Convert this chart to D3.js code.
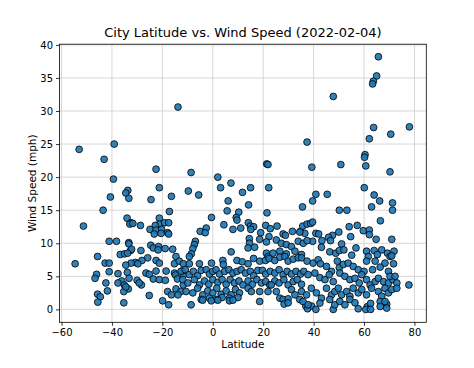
<!DOCTYPE html>
<html><head><meta charset="utf-8">
<script src="https://cdn.jsdelivr.net/npm/d3@7"></script>
<style>body{margin:0;background:#fff}svg{display:block}</style>
</head><body>
<svg id="chart" width="474" height="368"></svg>
<script>
const chartTitle = "City Latitude vs. Wind Speed (2022-02-04)";
const xLabel = "Latitude";
const yLabel = "Wind Speed (mph)";
const xTicks = [-60,-40,-20,0,20,40,60,80];
const yTicks = [0,5,10,15,20,25,30,35,40];

// [latitude, wind speed (mph)]
const windyCities = [
[-53,24.2],[-43.1,22.7],[-39.1,25.0],[-39.4,19.7],[-22.5,21.2],[-13.8,30.6],[-8.6,20.7],[2.0,20.0],
[65.7,38.2],[65.0,35.3],[63.7,34.5],[63.4,34.1],[47.8,32.2],[63.8,27.5],[78.0,27.6],[70.6,26.5],[62.1,25.8],[37.4,25.3],[60.4,23.4],[60.2,23.0],[21.4,22.0],[21.9,21.9],[39.3,21.5],[50.8,21.9],[60.7,21.7],[70.3,20.8],
[-21.2,18.4],[-33.7,18.0],[-34.5,17.6],[-40.6,17.0],[-33.3,16.8],[-24.5,16.6],[-16.4,17.1],[-43.5,15.0],[-17.2,14.8],[-51.3,12.6],[-34,13.8],[-32.5,13.1],[-32.9,12.9],[-31.7,13.0],[-28.7,12.7],[-21.2,13.8],[-21.2,12.9],[-22.8,12.7],[-19.1,13.1],[-17.5,13.1],[-24.9,12.1],[-22.5,12.0],[-20.3,12.1],[-23.2,11.4],[-20.5,11.5],[-17.9,11.6],[-17.5,11.4],[-41.1,10.3],[-38.2,10.3],[-33.3,10.1],
[7.2,19.1],[3.1,18.4],[15.0,18.4],[22.2,18.4],[-9.7,17.9],[-5.6,17.3],[11.8,17.7],[6.1,16.4],[14.2,15.8],[5.7,14.9],[10.3,14.7],[21.5,14.6],[35.6,15.5],[-0.5,13.9],[9.3,13.9],[9.6,13.5],[4.4,12.8],[14.1,13.1],[14.9,12.6],[16.2,12.5],[15.1,12.1],[8.0,12.1],[11.1,12.3],[19.0,11.6],[21.0,12.7],[22.8,12.2],[25.5,12.6],[27.9,11.4],[28.8,11.2],[31.6,11.8],[34.8,11.8],[35.7,12.6],[-5.0,11.8],[-2.6,12.3],[-3.0,11.6],[14.5,10.7],[18.6,10.6],[22.3,11.0],[-6.9,10.3],
[60.1,18.4],[40.9,17.4],[45.4,17.4],[39.6,16.4],[64.0,17.3],[66.2,16.4],[63.0,15.5],[71.3,16.1],[71.3,15.0],[50.2,15.0],[53.2,15.0],[66.5,13.4],[57.3,12.7],[54.1,12.5],[37.4,12.9],[38.8,13.0],[39.6,13.2],[59.7,11.9],[62.1,12.0],[62.1,11.3],[50.0,11.7],[47.5,11.2],[45.9,10.9],[54.7,11.0],[40.9,11.5],[42.0,11.4],[36.5,11.5],[64.8,10.6],[71.0,10.6],[34.5,11.7],[39.6,10.3],[43.3,10.4],[46.7,10.4]
];

const southCalm = [
[-54.6,6.9],[-33.3,9.9],[-45.7,8.0],[-36.7,8.3],[-35.0,8.4],[-32.6,8.9],[-32.2,9.1],[-33.8,8.5],[-28.5,8.9],[-24.6,9.7],[-23.6,9.3],[-21.5,9.5],[-21.7,9.0],[-18.9,9.2],[-15.9,9.1],[-25.8,7.8],[-22.5,7.4],[-21.2,7.0],[-28.1,7.4],[-30.7,7.1],[-29.7,6.9],[-32.4,7.0],[-34.5,6.7],[-42.7,7.0],[-41.1,7.0],[-41.1,5.7],[-46.1,5.3],[-46.7,4.7],[-37.6,5.4],[-33.9,5.6],[-33.2,4.7],[-30.0,4.4],[-26.5,5.5],[-25.2,5.3],[-23.6,4.6],[-21.2,4.5],[-18.8,4.4],[-22.5,5.8],[-18.5,5.8],[-15.2,5.5],[-14.8,5.2],[-14.0,4.6],[-36.1,4.3],[-37.6,4.0],[-35.1,3.7],[-42.4,4.0],[-41.8,2.8],[-28.3,3.7],[-29.2,4.0],[-33.5,3.1],[-35.3,2.7],[-34.5,3.4],[-14.6,3.1],[-12.7,2.7],[-13.8,2.2],[-17.9,2.7],[-16.4,2.2],[-25.2,2.1],[-19.9,1.3],[-17.5,0.7],[-35.3,1.0],[-45.7,2.3],[-44.6,1.9],[-45.6,1.1],[-11.7,5.2],[-12.2,5.8],[-11.7,3.7],[-14.6,8.0],[-15.2,6.9]
];

const tropicsCalm = [
[14.6,10.0],[21.3,10.2],[25.2,10.5],[27.2,10.0],[29.2,9.8],[31.2,9.5],[33.9,10.3],[35.9,10.0],
[14.0,9.3],[16.6,9.4],[21.3,8.5],[21.9,8.0],[23.9,8.5],[26.6,8.8],[29.2,8.4],[32.6,8.8],[35.2,8.3],
[-7.3,9.8],[-7.9,9.2],[-8.5,8.4],[-9.3,8.0],[-13.3,7.3],[-11.7,6.9],[-9.3,6.9],[-5.3,6.9],
[-0.5,7.0],[4.0,7.4],[4.2,6.8],[7.3,8.7],[9.6,7.4],[11.7,7.2],[14.0,6.9],[16.2,7.7],[18.6,7.3],[20.9,7.4],[22.3,7.7],[24.6,7.4],[26.6,7.9],[28.6,8.0],[29.9,7.3],[31.9,7.6],[33.9,7.8],
[-12.6,5.75],[-10.9,6.0],[-9.3,5.25],[-7.7,5.75],[-6.0,5.1],[-4.6,5.9],[-2.6,6.0],[-1.3,5.35],[0.0,5.75],[1.3,6.0],[2.7,5.35],[4.7,5.75],[6.4,6.0],[8.0,5.5],[9.6,5.75],[11.3,6.0],[13.0,5.5],[14.9,5.75],[16.2,5.1],[17.9,5.9],[19.7,5.9],[21.0,5.35],[22.8,5.75],[24.6,5.5],[26.3,6.0],[27.9,5.25],[29.5,5.75],[31.2,5.35],[33.0,5.75],[34.8,5.35],[36.1,5.75],
[-11.9,4.5],[-9.9,4.0],[-7.3,4.5],[-5.3,3.7],[-3.3,4.3],[-1.6,3.8],[0.0,4.5],[2.0,4.1],[3.7,4.5],[5.3,3.8],[6.9,4.5],[8.6,4.0],[10.4,4.3],[12.0,3.7],[14.0,4.3],[15.7,3.8],[17.5,4.5],[19.3,4.0],[21.0,4.2],[22.6,3.7],[24.6,4.3],[26.3,4.0],[28.2,4.5],[29.9,3.7],[31.9,4.2],[33.5,4.5],[35.2,3.8],
[-10.6,2.7],[-7.9,2.5],[-6.0,3.2],[-4.0,2.2],[-2.0,2.8],[0.0,2.5],[1.6,3.2],[3.3,2.3],[5.3,2.8],[7.3,2.2],[9.0,3.0],[10.6,2.5],[25.2,2.7],[31.2,3.0],
[14.0,3.2],[15.3,2.7],[18.6,2.7],[21.9,2.7],[23.2,3.7],[26.6,1.7],[27.9,1.5],[29.9,1.6],[32.6,2.2],[34.5,1.5],
[-4.6,1.5],[-1.3,1.7],[1.4,1.5],[3.7,1.8],[6.6,1.7],[10.0,1.8],[18.6,1.2],[-8.6,0.7],
[-4.0,1.4],[-0.6,1.3],[2.0,1.4],[6.6,1.3],[8.0,1.4],[28.3,0.8],[29.9,1.0]
];

const northCalm = [
[36.9,0.5],[39.2,0.5],[61.3,0.4],[62.6,0.9],[69.0,0.8],
[37.6,0.1],[40.9,0.0],[47.8,0.0],[57.7,0.1],[60.7,0.0],[62.6,0.0],[69.0,0.2],
[37.4,10.4],[51.1,9.9],[43.1,9.4],
[46.4,8.7],[48.8,8.5],[50.2,8.9],[52.0,9.0],[55.1,8.2],[56.8,9.3],[61.0,8.8],[61.7,8.0],[64.0,8.9],[65.3,8.3],[67.0,9.0],[69.3,8.5],[70.3,8.0],[71.9,8.8],[71.0,8.1],
[35.2,7.8],[37.4,7.3],[39.8,7.0],[41.8,7.5],[42.7,6.9],[45.1,6.5],[47.1,5.75],[49.4,7.3],[50.2,6.3],[51.8,6.8],[53.7,7.0],[55.7,6.5],[57.7,6.0],[60.0,5.75],[61.0,7.3],[63.4,6.0],[66.4,6.4],[68.3,7.0],[69.7,5.75],[71.7,6.9],[64.4,7.3],
[37.8,5.25],[40.5,5.5],[42.5,4.8],[44.5,4.5],[46.2,5.25],[47.8,4.2],[50.4,5.5],[52.4,5.0],[54.4,4.5],[56.4,4.7],[58.1,4.0],[59.1,5.25],[61.0,4.5],[62.4,3.7],[64.4,4.2],[65.7,4.7],[67.7,4.2],[69.7,4.0],[71.4,4.5],[73.0,4.0],[77.8,3.7],[70.3,5.0],[72.3,5.0],
[35.2,2.7],[37.2,2.2],[39.1,3.2],[41.1,2.5],[43.1,1.7],[45.1,3.2],[47.1,2.2],[48.4,2.7],[49.8,3.2],[51.1,2.2],[53.1,2.7],[54.4,2.0],[55.7,3.2],[57.7,2.5],[59.1,3.0],[61.0,2.2],[63.0,3.2],[65.7,2.7],[67.0,2.0],[68.3,3.2],[69.7,2.5],[71.0,3.0],[73.0,3.2],
[35.8,1.2],[37.8,0.7],[42.5,0.95],[46.4,1.5],[48.4,0.7],[50.4,1.2],[52.4,0.7],[54.4,1.5],[56.4,1.0],[66.4,1.2],[68.3,1.2],[66.4,0.45]
];

const cities = [...windyCities, ...southCalm, ...tropicsCalm, ...northCalm];

const svg = d3.select("#chart");
const plotLeft = 59.5, plotRight = 426.3, plotTop = 44.2, plotBottom = 322.3;
const x = d3.scaleLinear().domain([-60.8, 84.7]).range([plotLeft, plotRight]);
const y = d3.scaleLinear().domain([-1.95, 40.1]).range([plotBottom, plotTop]);
const font = "'DejaVu Sans', sans-serif";
const fmt = d => (d < 0 ? "\u2212" + Math.abs(d) : String(d));

// grid
svg.append("g").selectAll("line").data(xTicks).join("line")
  .attr("x1", d => x(d)).attr("x2", d => x(d)).attr("y1", plotTop).attr("y2", plotBottom)
  .attr("stroke", "#d2d2d2").attr("stroke-width", 0.9);
svg.append("g").selectAll("line").data(yTicks).join("line")
  .attr("x1", plotLeft).attr("x2", plotRight).attr("y1", d => y(d)).attr("y2", d => y(d))
  .attr("stroke", "#d2d2d2").attr("stroke-width", 0.9);

// points
svg.append("g").selectAll("circle").data(cities).join("circle")
  .attr("cx", d => x(d[0])).attr("cy", d => y(d[1])).attr("r", 3.4)
  .attr("fill", "#1f77b4").attr("fill-opacity", 0.92)
  .attr("stroke", "#000").attr("stroke-width", 0.8);

// axes
const xAxis = d3.axisBottom(x).tickValues(xTicks).tickSize(3.5).tickPadding(3).tickFormat(fmt);
const yAxis = d3.axisLeft(y).tickValues(yTicks).tickSize(3.5).tickPadding(3).tickFormat(fmt);
const gx = svg.append("g").attr("transform", `translate(0,${plotBottom})`).call(xAxis);
const gy = svg.append("g").attr("transform", `translate(${plotLeft},0)`).call(yAxis);
[gx, gy].forEach(g => {
  g.select(".domain").remove();
  g.selectAll(".tick line").attr("stroke", "#000").attr("stroke-width", 0.8);
  g.selectAll(".tick text").attr("fill", "#000").style("font-family", font).style("font-size", "10px");
});

// frame
svg.append("rect").attr("x", plotLeft).attr("y", plotTop).attr("width", plotRight - plotLeft).attr("height", plotBottom - plotTop)
  .attr("fill", "none").attr("stroke", "#000").attr("stroke-width", 0.8);

// labels
svg.append("text").attr("x", (plotLeft + plotRight) / 2).attr("y", 37).attr("text-anchor", "middle")
  .style("font-family", font).style("font-size", "13px").attr("fill", "#000").text(chartTitle);
svg.append("text").attr("x", (plotLeft + plotRight) / 2).attr("y", 348).attr("text-anchor", "middle")
  .style("font-family", font).style("font-size", "10.5px").attr("fill", "#000").text(xLabel);
svg.append("text").attr("transform", `translate(36,${(plotTop + plotBottom) / 2}) rotate(-90)`).attr("text-anchor", "middle")
  .style("font-family", font).style("font-size", "10.5px").attr("fill", "#000").text(yLabel);
</script>
</body></html>
